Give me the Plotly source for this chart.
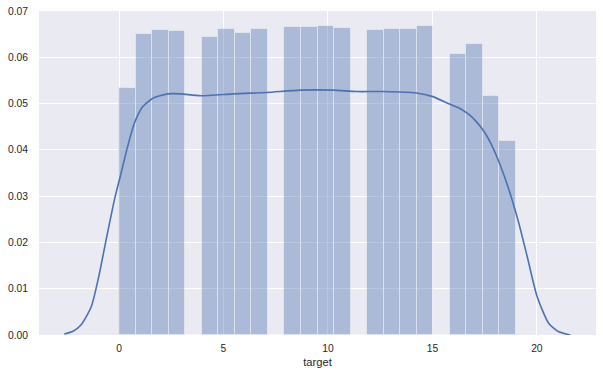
import numpy as np
import plotly.graph_objects as go

# Histogram (density) of "target": 24 equal bins spanning 0..19
bin_lo, bin_hi, n_bins = 0.0, 19.0, 24
densities = [0.0534, 0.0651, 0.0659, 0.0657, 0.0, 0.0644, 0.0661, 0.0653,
             0.0661, 0.0, 0.0666, 0.0666, 0.0668, 0.0664, 0.0, 0.0659,
             0.0661, 0.0661, 0.0668, 0.0, 0.0608, 0.0629, 0.0516, 0.0419]

# KDE curve
kde_x = [-2.62, -2.2, -1.81, -1.33, -0.97, -0.62, -0.22, 0.095, 0.41, 0.73, 1.13,
         1.6, 2.32, 2.95, 3.9, 5.49, 7.08, 8.67, 10.25, 11.37, 12.63, 14.22, 15.02,
         15.81, 16.3, 16.76, 17.08, 17.48, 17.87, 18.27, 18.67, 19.14, 19.54,
         20.01, 20.57, 21.05, 21.6]
kde_y = [0.0002, 0.0008, 0.0022, 0.0061, 0.0126, 0.0205, 0.0292, 0.0349, 0.0407,
         0.0457, 0.0493, 0.0511, 0.0521, 0.0521, 0.0517, 0.0521, 0.0524, 0.0529,
         0.0529, 0.0526, 0.0526, 0.0523, 0.0515, 0.0499, 0.0490, 0.0476, 0.0462,
         0.0439, 0.0407, 0.0364, 0.0313, 0.0241, 0.0169, 0.0083, 0.0025, 0.0007,
         0.0]

x_ticks = [0, 5, 10, 15, 20]
y_ticks = [0.0, 0.01, 0.02, 0.03, 0.04, 0.05, 0.06, 0.07]
x_label = "target"

edges = np.linspace(bin_lo, bin_hi, n_bins + 1)
centers = (edges[:-1] + edges[1:]) / 2
width = edges[1] - edges[0]

fig = go.Figure()
fig.add_trace(go.Bar(
    x=centers, y=densities, width=width,
    marker=dict(color="rgba(76,114,176,0.4)",
                line=dict(color="rgba(255,255,255,0.4)", width=1)),
    showlegend=False, hoverinfo="x+y",
))
fig.add_trace(go.Scatter(
    x=kde_x, y=kde_y, mode="lines",
    line=dict(color="#4C72B0", width=1.6, shape="spline", smoothing=0.6),
    showlegend=False,
))

font_family = "Liberation Sans, Arial, sans-serif"
fig.update_layout(
    width=603, height=376,
    margin=dict(l=39, r=7, t=11, b=41),
    paper_bgcolor="white",
    plot_bgcolor="#EAEAF2",
    font=dict(family=font_family, size=10.3, color="#262626"),
    bargap=0,
)
fig.update_xaxes(
    range=[-3.83, 22.83], tickvals=x_ticks, ticks="",
    showgrid=True, gridcolor="white", gridwidth=1,
    zeroline=False, showline=False, automargin=False,
    title=dict(text=x_label, font=dict(size=11.2, color="#262626"), standoff=4),
    ticklabelstandoff=6,
)
fig.update_yaxes(
    range=[0, 0.07], tickvals=y_ticks, tickformat=".2f", ticks="",
    showgrid=True, gridcolor="white", gridwidth=1,
    zeroline=False, showline=False, automargin=False,
    ticklabelstandoff=10,
)

# remove the default 8px page margin so the figure fills the window exactly
fig.write_html(
    "out.html",
    config={"displayModeBar": False},
    post_script="document.body.style.margin='0';document.body.style.overflow='hidden';",
)
